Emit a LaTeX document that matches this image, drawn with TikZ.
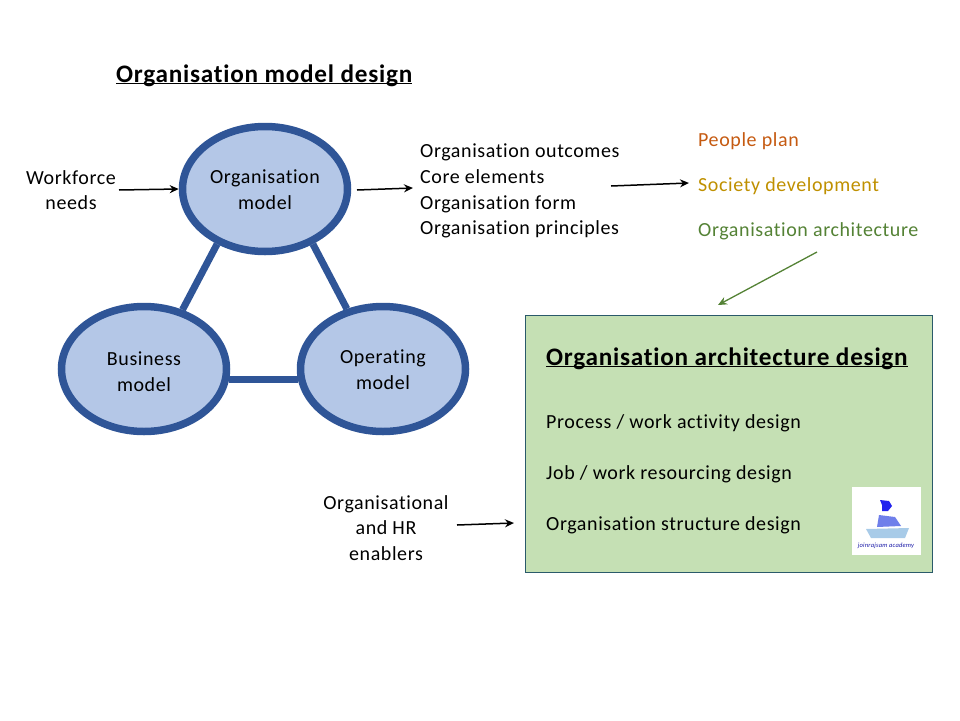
\documentclass[tikz,border=0pt]{standalone}
\usepackage{fontspec}
\setmainfont{Carlito}[Ligatures=NoCommon,LetterSpace=3]
\usetikzlibrary{positioning,arrows.meta,shapes.geometric}
\definecolor{ringblue}{HTML}{2F5597}
\definecolor{discblue}{HTML}{B4C7E7}
\definecolor{boxgreen}{HTML}{C5E0B4}
\definecolor{boxedge}{HTML}{2A5A6A}
\definecolor{planorange}{HTML}{C55A11}
\definecolor{societygold}{HTML}{BF9000}
\definecolor{archgreen}{HTML}{548235}
\definecolor{logodark}{HTML}{2222EE}
\definecolor{logomid}{HTML}{6F7FEA}
\definecolor{logolight}{HTML}{A8CBE8}
\newcommand{\titleline}[1]{\underline{\smash{#1}}}
\tikzset{
  modeldisc/.style={ellipse,draw=ringblue,fill=discblue,line width=7.5pt,minimum width=165pt,minimum height=125pt,inner sep=0pt},
  plainlabel/.style={align=center,font=\fontsize{20}{25.7}\selectfont,inner sep=0pt},
  sidelabel/.style={anchor=west,font=\fontsize{20}{22}\selectfont,inner sep=0pt},
  titlelabel/.style={anchor=west,font=\fontsize{25.2}{28}\selectfont\bfseries,inner sep=0pt},
  thinarrow/.style={line width=1.5pt,-{Stealth[length=9pt,width=8pt]}},
  ringlink/.style={draw=ringblue,line width=7pt},
}
\begin{document}
\begin{tikzpicture}[x=1pt,y=-1pt]
  \useasboundingbox (0,0) rectangle (960,720);
  \node[titlelabel] (modeltitle) at (116,83) {\titleline{Organisation model design}};
  % the three models
  \node[modeldisc] (orgmodel) at (265,189) {};
  \node[modeldisc] (bizmodel) at (144,369) {};
  \node[modeldisc] (opmodel) at (383,369) {};
  \node[plainlabel] (orgtext) at (265,190) {Organisation\\model};
  \node[plainlabel] (biztext) at (144,372) {Business\\model};
  \node[plainlabel] (optext) at (383,370) {Operating\\model};
  \draw[ringlink] (orgmodel.229) -- (bizmodel.57);
  \draw[ringlink] (orgmodel.311) -- (opmodel.121);
  \draw[ringlink] (bizmodel.-7) -- (opmodel.187);
  % inputs and outputs
  \node[plainlabel] (wfneeds) at (71,190) {Workforce\\needs};
  \node[plainlabel,align=left,anchor=west] (outcomes) at (420,191) {Organisation outcomes\\Core elements\\Organisation form\\Organisation principles};
  \coordinate (wfout) at (119,190);
  \coordinate (orgout) at (357,190);
  \coordinate (orgin) at (413,188);
  \coordinate (outcomesout) at (611,186);
  \coordinate (societyin) at (689,183);
  \draw[thinarrow] (wfout) -- (orgmodel.west);
  \draw[thinarrow] (orgout) -- (orgin);
  \node[sidelabel,text=planorange] (peopleplan) at (698,141) {People plan};
  \node[sidelabel,text=societygold] (society) at (698,186) {Society development};
  \node[sidelabel,text=archgreen] (archlabel) at (698,231) {Organisation architecture};
  \draw[thinarrow] (outcomesout) -- (societyin);
  % architecture box
  \node[draw=boxedge,fill=boxgreen,line width=0.8pt,minimum width=407pt,minimum height=257pt,inner sep=0pt] (archbox) at (729,443.5) {};
  \node[titlelabel] (archtitle) at (546,366) {\titleline{Organisation architecture design}};
  \node[sidelabel] (process) at (546,423) {Process / work activity design};
  \node[sidelabel] (resourcing) at (546,474) {Job / work resourcing design};
  \node[sidelabel] (structure) at (546,525) {Organisation structure design};
  \coordinate (archout) at (817,252);
  \coordinate (archin) at (718,305);
  \draw[archgreen,line width=1.3pt,-{Stealth[length=9pt,width=8pt]}] (archout) -- (archin);
  \node[plainlabel] (enablers) at (386,528) {Organisational\\and HR\\enablers};
  \coordinate (enablersout) at (457,525);
  \coordinate (enablersin) at (514,523);
  \draw[thinarrow] (enablersout) -- (enablersin);
  % logo
  \node[fill=white,minimum width=69pt,minimum height=68pt,inner sep=0pt] (logo) at (886.5,521) {};
  \fill[logodark] (880,500) -- (889,501) -- (892,506) -- (888,511) -- (882,511) -- (882,505) -- cycle;
  \fill[logomid] (879,515) -- (895,517) -- (901,526) -- (877,527) -- cycle;
  \fill[logolight] (866,529) -- (909,528) -- (905,538) -- (871,538) -- cycle;
  \node[inner sep=0pt,text=logodark!70!black,font=\fontsize{6.5}{7}\selectfont\itshape] (logotext) at (886,546) {joinrajsam academy};
\end{tikzpicture}
\end{document}
